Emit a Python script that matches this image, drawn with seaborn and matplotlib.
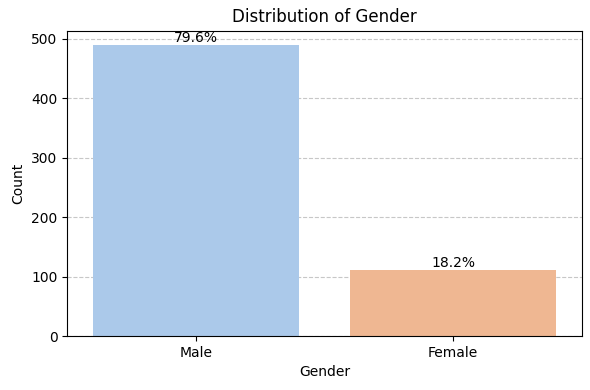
import matplotlib
matplotlib.use("Agg")
import matplotlib.pyplot as plt
import seaborn as sns
import pandas as pd

# ====== Data ======
genders = ["Male", "Female"]
counts = [489, 112]
percent_labels = ["79.6%", "18.2%"]  # share of all 614 rows (incl. missing)

df = pd.DataFrame({"Gender": genders, "Count": counts})

# ====== Plot ======
fig, ax = plt.subplots(figsize=(5.9, 3.9), dpi=100)
ax.set_axisbelow(True)
ax.grid(axis="y", linestyle="--", alpha=0.7)
sns.barplot(data=df, x="Gender", y="Count", hue="Gender", palette="pastel",
            legend=False, ax=ax)

for p, lab in zip(ax.patches, percent_labels):
    ax.annotate(lab, (p.get_x() + p.get_width() / 2, p.get_height()),
                ha="center", va="bottom", fontsize=10)

ax.set_title("Distribution of Gender")
ax.set_xlabel("Gender")
ax.set_ylabel("Count")
fig.subplots_adjust(left=0.114, right=0.986, top=0.921, bottom=0.138)
plt.savefig("out.png")
